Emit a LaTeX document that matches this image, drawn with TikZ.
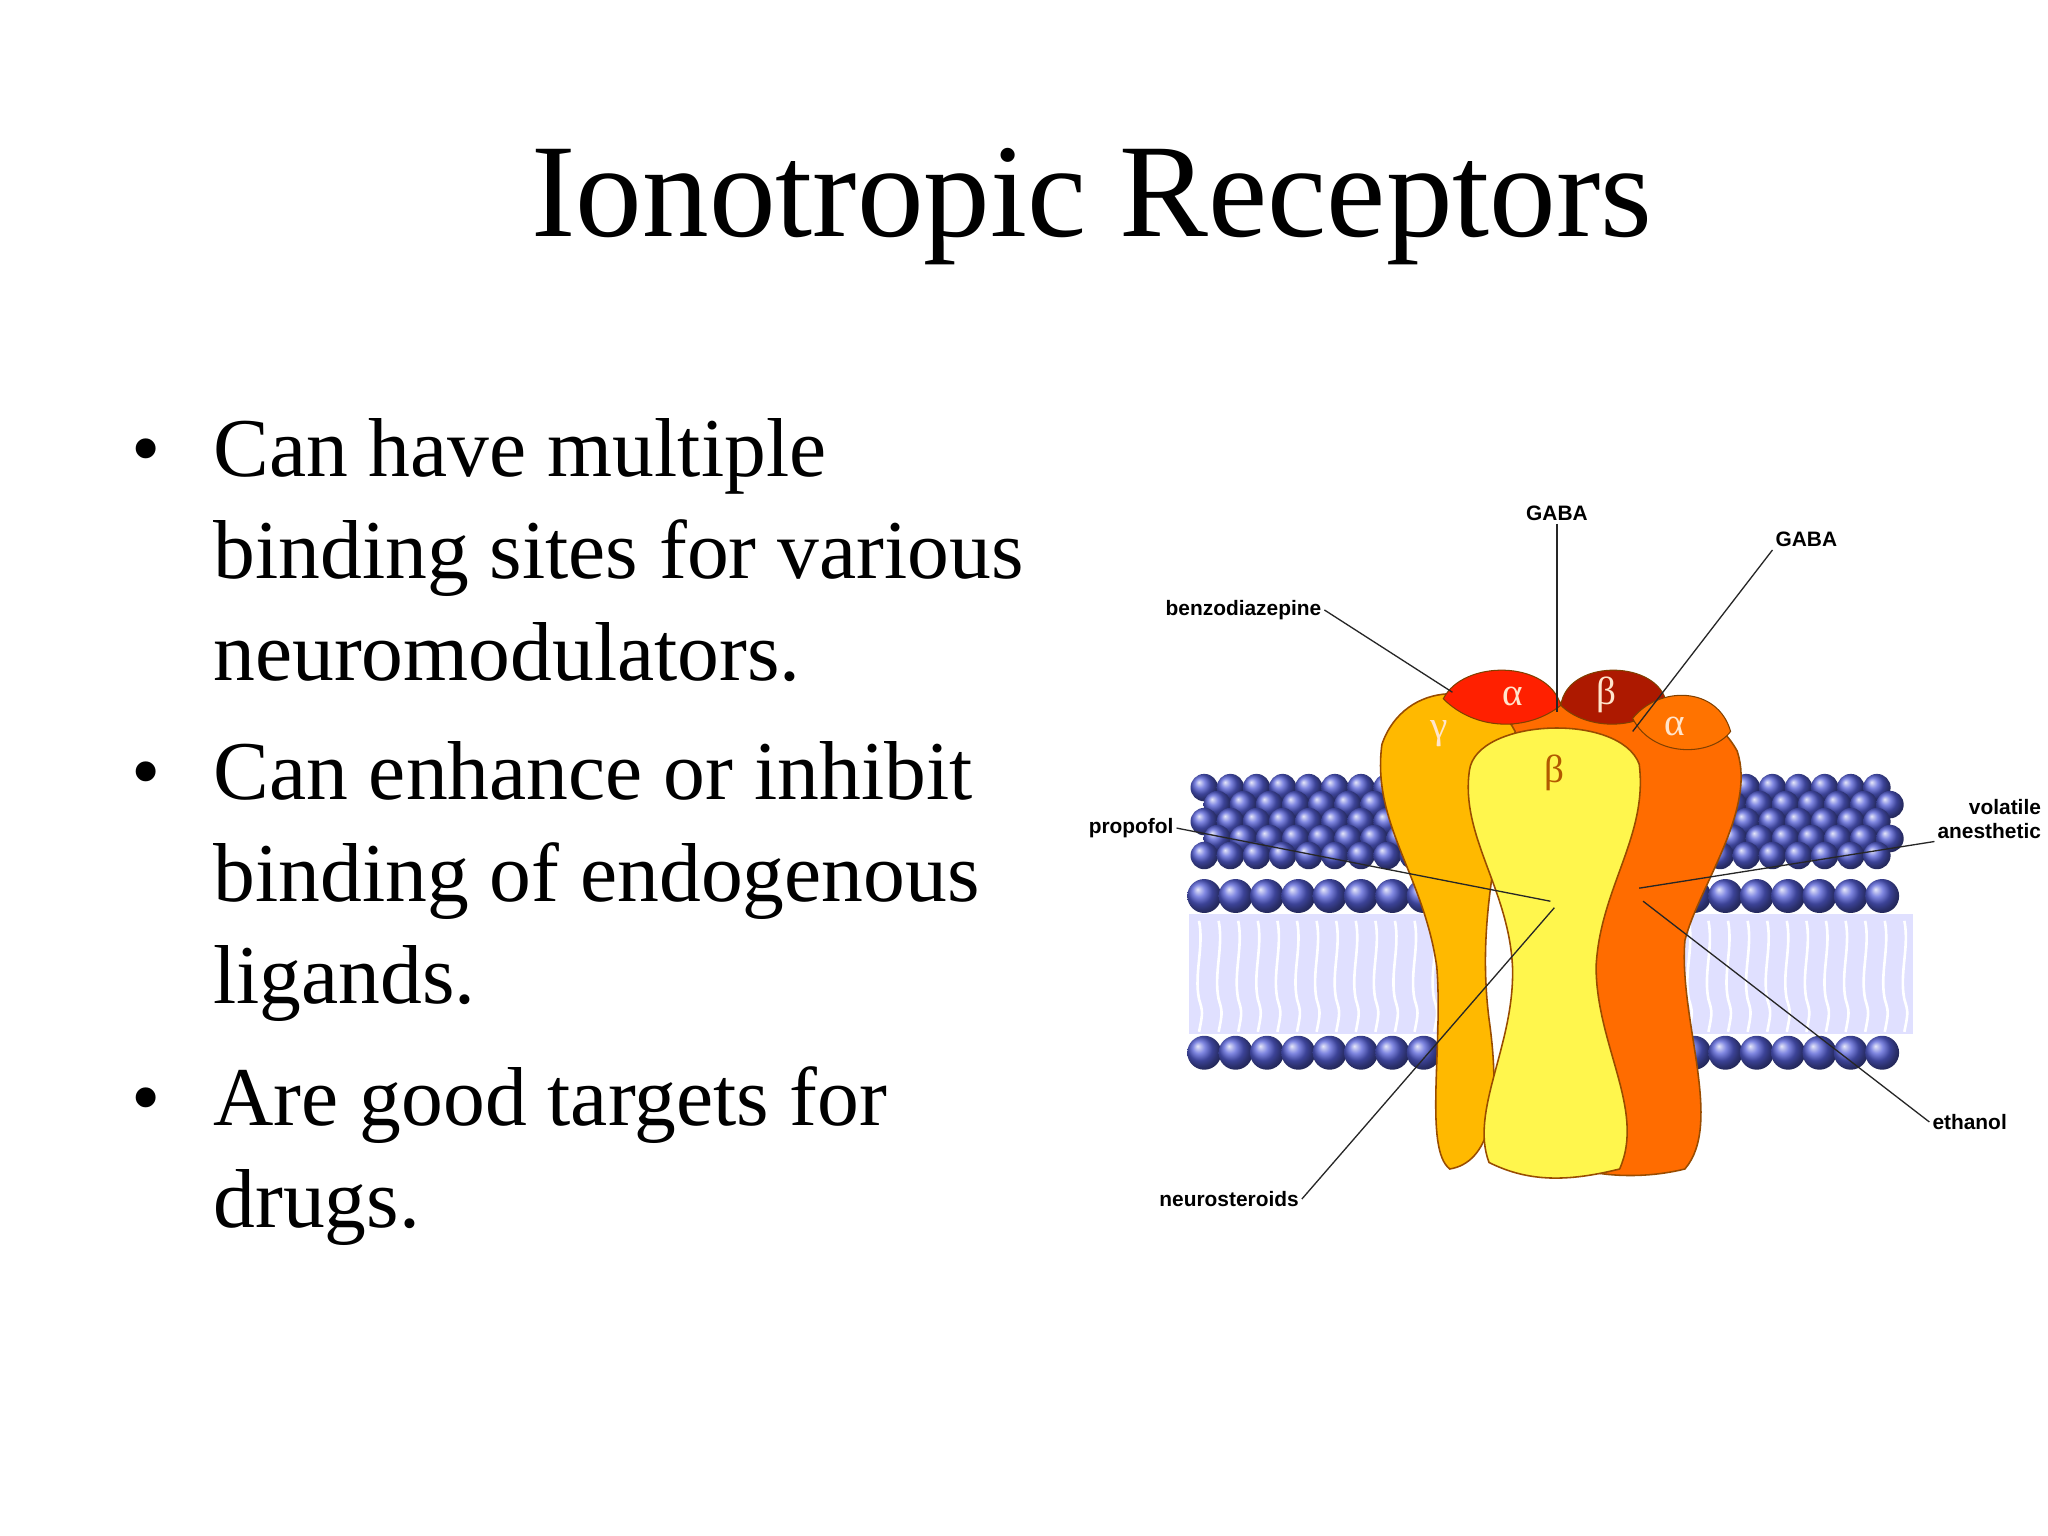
\documentclass[tikz,border=0pt]{standalone}
\usepackage{fontspec}
\setmainfont{Liberation Serif}
\newfontfamily\lbl{Liberation Sans}
\definecolor{headc}{RGB}{85,95,215}
\begin{document}
\begin{tikzpicture}[x=0.5pt,y=-0.5pt,
  lab/.style={font=\lbl\bfseries\fontsize{8}{9}\selectfont,inner sep=1pt},
  ptr/.style={draw=black!85,line width=0.5pt},
  bul/.style={font=\fontsize{32}{39}\selectfont,anchor=base west,inner sep=0},
  head/.style={ball color=headc,draw=none},
  greek/.style={font=\fontsize{15}{15}\selectfont,text=white!80!orange}]
\useasboundingbox (0,0) rectangle (1568,1176);
\fill[white] (0,0) rectangle (1568,1176);
\node (title) at (836,158) {\fontsize{51}{56}\selectfont Ionotropic Receptors};
\node[bul] (b1) at (100,365) {\textbullet};
\node[bul] (t1a) at (163,365) {Can have multiple};
\node[bul] (t1b) at (163,443) {binding sites for various};
\node[bul] (t1c) at (163,521) {neuromodulators.};
\node[bul] (b2) at (100,612) {\textbullet};
\node[bul] (t2a) at (163,612) {Can enhance or inhibit};
\node[bul] (t2b) at (163,690) {binding of endogenous};
\node[bul] (t2c) at (163,768) {ligands.};
\node[bul] (b3) at (100,862) {\textbullet};
\node[bul] (t3a) at (163,862) {Are good targets for};
\node[bul] (t3b) at (163,940) {drugs.};
% membrane
\fill[blue!12!white] (910,700) rectangle (1100,792);
\fill[blue!12!white] (1285,700) rectangle (1465,792);
\foreach \x in {918,933,...,1460}{
  \draw[white,line width=1pt] (\x,705) .. controls ({\x+4},725) and ({\x-4},745) .. (\x,765) .. controls ({\x+3},775) .. (\x,790);
}
\fill[white] (1100,698) rectangle (1285,795);
\foreach \xa/\xb in {922/1092,1297/1456}{
  \pgfmathtruncatemacro{\xs}{\xa+20}
  \pgfmathtruncatemacro{\xt}{\xa+24}
  \foreach \r in {0,...,4}{
    \pgfmathsetmacro{\yy}{603+\r*13}
    \pgfmathsetmacro{\off}{mod(\r,2)*10}
    \foreach \x in {\xa,\xs,...,\xb}{
      \shade[head] ({\x+\off},\yy) circle (10.5);
    }
  }
  \foreach \x in {\xa,\xt,...,\xb}{
    \shade[head] (\x,686) circle (13);
    \shade[head] (\x,806) circle (13);
  }
}
% receptor back body (orange)
\path[fill=orange!85!red,draw=orange!60!black,line width=0.6pt]
  (1150,560) .. controls (1200,520) and (1300,520) .. (1330,575)
  .. controls (1345,620) and (1300,680) .. (1290,720)
  .. controls (1285,780) and (1320,860) .. (1290,895)
  .. controls (1250,905) and (1200,900) .. (1180,880) -- cycle;
% left gamma subunit
\path[fill=orange!55!yellow,draw=orange!60!black,line width=0.6pt]
  (1058,570) .. controls (1075,520) and (1140,520) .. (1160,560)
  .. controls (1150,640) and (1130,700) .. (1140,780)
  .. controls (1150,850) and (1140,890) .. (1110,895)
  .. controls (1090,880) and (1105,800) .. (1100,740)
  .. controls (1090,670) and (1050,630) .. cycle;
% top caps
\path[fill=red!75!orange,draw=orange!50!black] (1105,535) .. controls (1120,505) and (1185,505) .. (1195,540) .. controls (1170,560) and (1130,560) .. cycle;
\path[fill=red!60!black!80!orange,draw=orange!50!black] (1195,540) .. controls (1200,505) and (1265,505) .. (1275,535) .. controls (1260,560) and (1215,560) .. cycle;
\path[fill=orange!90!red,draw=orange!50!black] (1250,550) .. controls (1270,525) and (1315,525) .. (1325,560) .. controls (1310,580) and (1265,580) .. cycle;
% center beta (yellow)
\path[fill=yellow!70!white,draw=orange!60!black,line width=0.6pt]
  (1125,590) .. controls (1130,550) and (1240,545) .. (1255,585)
  .. controls (1262,640) and (1225,680) .. (1222,740)
  .. controls (1222,800) and (1260,850) .. (1240,895)
  .. controls (1200,905) and (1170,905) .. (1140,890)
  .. controls (1125,850) and (1160,800) .. (1158,740)
  .. controls (1155,680) and (1118,640) .. cycle;
\node[greek] (ga1) at (1158,533) {α};
\node[greek] (gb1) at (1230,532) {β};
\node[greek] (ga2) at (1282,556) {α};
\node[greek] (gg) at (1102,562) {γ};
\node[greek,text=orange!70!black] (gb2) at (1190,592) {β};
% labels
\coordinate (pGABA1) at (1192,545);
\coordinate (pGABA2) at (1250,560);
\coordinate (pBenz) at (1112,530);
\coordinate (pProp) at (1187,690);
\coordinate (pVol) at (1255,680);
\coordinate (pEth) at (1258,690);
\coordinate (pNeu) at (1190,695);
\node[lab] (gaba1) at (1192,393) {GABA};
\node[lab] (gaba2) at (1383,413) {GABA};
\node[lab] (benz) at (952,467) {benzodiazepine};
\node[lab] (prop) at (866,634) {propofol};
\node[lab,align=right,anchor=east] (vol) at (1565,627) {volatile\\anesthetic};
\node[lab] (eth) at (1508,859) {ethanol};
\node[lab] (neu) at (941,918) {neurosteroids};
\draw[ptr] (gaba1.south) -- (pGABA1);
\draw[ptr] (gaba2.south west) -- (pGABA2);
\draw[ptr] (benz.east) -- (pBenz);
\draw[ptr] (prop.east) -- (pProp);
\draw[ptr] (vol.south west) -- (pVol);
\draw[ptr] (eth.west) -- (pEth);
\draw[ptr] (neu.east) -- (pNeu);
\end{tikzpicture}
\end{document}
